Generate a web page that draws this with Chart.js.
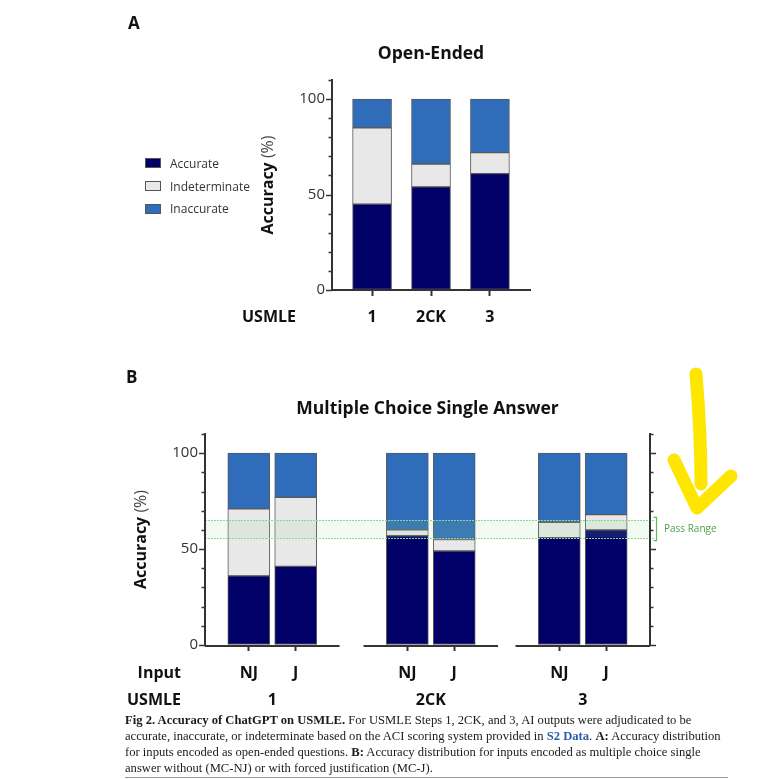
<!DOCTYPE html>
<html><head><meta charset="utf-8">
<script src="https://cdn.jsdelivr.net/npm/chart.js@4.4.1/dist/chart.umd.min.js"></script>
<style>
html,body{margin:0;padding:0;background:#fff;}
#page{position:relative;width:768px;height:779px;overflow:hidden;font-family:'Open Sans',sans-serif;}
canvas{position:absolute;left:0;}
#cA{top:0;} #cB{top:340px;}
.panel{position:absolute;font-weight:700;font-size:17px;color:#111;line-height:20px;}
#legend{position:absolute;left:145px;top:152px;font-size:12px;color:#333;}
.li{display:flex;align-items:center;height:22.7px;}
.sw{width:14px;height:8px;border:1px solid #555;margin-right:9px;}
#caption{position:absolute;left:125px;top:712px;font-family:'Liberation Serif','Times New Roman',serif;font-size:12.6px;line-height:16px;color:#1a1a1a;white-space:nowrap;}
#caption b{font-weight:700;}
#caption .lnk{color:#2a5ca8;font-weight:700;}
#rule{position:absolute;left:125px;top:777px;width:603px;height:1px;background:#999;}
#arrow{position:absolute;left:0;top:0;}
</style></head>
<body><div id="page">
<canvas id="cA" width="768" height="340"></canvas>
<canvas id="cB" width="768" height="380"></canvas>
<div class="panel" style="left:128px;top:13px;">A</div>
<div class="panel" style="left:126px;top:367px;">B</div>
<div id="legend"></div>
<div id="caption"><b>Fig 2. Accuracy of ChatGPT on USMLE.</b> For USMLE Steps 1, 2CK, and 3, AI outputs were adjudicated to be<br>accurate, inaccurate, or indeterminate based on the ACI scoring system provided in <span class="lnk">S2 Data</span>. <b>A:</b> Accuracy distribution<br>for inputs encoded as open-ended questions. <b>B:</b> Accuracy distribution for inputs encoded as multiple choice single<br>answer without (MC-NJ) or with forced justification (MC-J).</div>
<div id="rule"></div>
<svg id="arrow" width="768" height="779"><g fill="none" stroke="#ffe600" stroke-width="13" stroke-linecap="round" stroke-linejoin="round"><path d="M696 374 C699 410 701 450 701 484"/><path d="M674 460 L697 508 L731 476"/></g></svg>
</div>
<script>
// ---------- data ----------
const usmleSteps = ['1', '2CK', '3'];
const seriesNames = ['Accurate', 'Indeterminate', 'Inaccurate'];
const seriesColors = ['#000068', '#e8e8e8', '#2f6cb9'];
// Panel A: open-ended
const openAccurate = [45, 54, 61];
const openIndeterminate = [40, 12, 11];
const openInaccurate = [15, 34, 28];
// Panel B: multiple choice single answer (NJ, J per step)
const inputTypes = ['NJ', 'J'];
const mcAccurate = [36, 41, 57, 49, 56, 60];
const mcIndeterminate = [35, 36, 3, 6, 8, 8];
const mcInaccurate = [29, 23, 40, 45, 36, 32];
const passRange = [56, 65];
const yMajorTicks = [0, 50, 100];
const yMax = 110, yStep = 10;

// ---------- layout / style ----------
const FONT = "'Open Sans', sans-serif";
const groupCenters = [0, 3.38, 6.62], segHalf = 1.434;
const openPos = usmleSteps.map((_, i) => i + 1);
const mcPos = [], mcLabels = [];
usmleSteps.forEach((s, g) => {
  inputTypes.forEach((t, i) => { mcPos.push(groupCenters[g] + i - 0.5); mcLabels.push(t); });
});

// legend (HTML, built from series)
const lg = document.getElementById('legend');
seriesNames.forEach((n, i) => {
  const d = document.createElement('div'); d.className = 'li';
  d.innerHTML = '<span class="sw" style="background:' + seriesColors[i] + '"></span><span>' + n + '</span>';
  lg.appendChild(d);
});

function mkDatasets(pos, arrs, thick) {
  return arrs.map((arr, k) => ({
    label: seriesNames[k],
    data: arr.map((v, i) => ({ x: pos[i], y: v })),
    backgroundColor: seriesColors[k],
    borderColor: '#5a5a5a', borderWidth: 1, borderSkipped: false,
    barThickness: thick
  }));
}
function yAxisCfg(extra) {
  return Object.assign({
    type: 'linear', min: 0, max: yMax, stacked: true,
    ticks: { stepSize: yStep, autoSkip: false, padding: 7, color: '#333', font: { family: FONT, size: 15 },
      callback: v => yMajorTicks.includes(v) ? String(v) : '' },
    grid: { display: true, drawOnChartArea: false, drawTicks: false },
    border: { display: true, color: '#333', width: 2, z: 1 },
    afterFit(s) { s.width = 40; }
  }, extra || {});
}
function xAxisCfg(pos, labels, min, max, showBorder, pad) {
  return {
    type: 'linear', min: min, max: max, offset: false, stacked: true,
    afterBuildTicks(s) { s.ticks = pos.map(v => ({ value: v })); },
    ticks: { autoSkip: false, maxRotation: 0, minRotation: 0, padding: pad, color: '#111',
      font: { family: FONT, size: 16, weight: 'bold' }, callback: (v, i) => labels[i] },
    grid: { display: true, drawOnChartArea: false, drawTicks: true, tickLength: 6, tickColor: '#333', tickWidth: 2, offset: false },
    border: { display: showBorder, color: '#333', width: 2, z: 1 },
    afterFit(s) { s.height = 40; }
  };
}
function drawYTicks(ctx, scale, side) {
  ctx.save(); ctx.strokeStyle = '#333'; ctx.lineWidth = 1.5;
  scale.ticks.forEach(t => {
    const y = Math.round(scale.getPixelForValue(t.value)) + 0.5;
    const len = yMajorTicks.includes(t.value) ? 6 : 3.5;
    ctx.beginPath();
    if (side === 'left') { ctx.moveTo(scale.right - len, y); ctx.lineTo(scale.right, y); }
    else { ctx.moveTo(scale.left, y); ctx.lineTo(scale.left + len, y); }
    ctx.stroke();
  });
  ctx.restore();
}
function txt(ctx, s, x, y, size, weight, align, color) {
  ctx.save(); ctx.font = weight + ' ' + size + 'px ' + FONT; ctx.fillStyle = color || '#111';
  ctx.textAlign = align || 'center'; ctx.textBaseline = 'middle'; ctx.fillText(s, x, y); ctx.restore();
}
function drawYTitle(ctx, x, y) {
  ctx.save(); ctx.translate(x, y); ctx.rotate(-Math.PI / 2); ctx.textBaseline = 'middle';
  const a = 'Accuracy ', b = '(%)';
  ctx.font = 'bold 16px ' + FONT; const w1 = ctx.measureText(a).width;
  ctx.font = '16px ' + FONT; const w2 = ctx.measureText(b).width;
  const x0 = -(w1 + w2) / 2;
  ctx.textAlign = 'left';
  ctx.font = 'bold 16px ' + FONT; ctx.fillStyle = '#111'; ctx.fillText(a, x0, 0);
  ctx.font = '16px ' + FONT; ctx.fillStyle = '#444'; ctx.fillText(b, x0 + w1, 0);
  ctx.restore();
}

Chart.defaults.font.family = FONT;

// ---------- Chart A ----------
const decorA = {
  id: 'decorA',
  afterDraw(chart) {
    const { ctx, chartArea: ca, scales } = chart;
    drawYTicks(ctx, scales.y, 'left');
    drawYTitle(ctx, ca.left - 64, (ca.top + ca.bottom) / 2);
    txt(ctx, 'Open-Ended', (ca.left + ca.right) / 2, ca.top - 26, 17.5, 'bold');
    txt(ctx, 'USMLE', ca.left - 36, ca.bottom + 27, 16, 'bold', 'right');
  }
};
new Chart(document.getElementById('cA'), {
  type: 'bar',
  data: { datasets: mkDatasets(openPos, [openAccurate, openIndeterminate, openInaccurate], 39) },
  options: {
    responsive: false, animation: false, devicePixelRatio: 1,
    layout: { padding: { left: 292, right: 238, top: 80, bottom: 10 } },
    plugins: { legend: { display: false }, tooltip: { enabled: false }, title: { display: false } },
    scales: { x: xAxisCfg(openPos, usmleSteps, 0.32, 3.68, true, 12), y: yAxisCfg() }
  },
  plugins: [decorA]
});

// ---------- Chart B ----------
const decorB = {
  id: 'decorB',
  afterDatasetsDraw(chart) {
    const { ctx, chartArea: ca, scales: { y } } = chart;
    const yT = y.getPixelForValue(passRange[1]), yB = y.getPixelForValue(passRange[0]);
    ctx.save();
    ctx.fillStyle = 'rgba(150,220,150,0.14)';
    ctx.fillRect(ca.left, yT, ca.right - ca.left, yB - yT);
    ctx.strokeStyle = '#8fd68f'; ctx.lineWidth = 1; ctx.setLineDash([2, 1]);
    [yT, yB].forEach(yy => { ctx.beginPath(); ctx.moveTo(ca.left, Math.round(yy) + 0.5); ctx.lineTo(ca.right + 4, Math.round(yy) + 0.5); ctx.stroke(); });
    ctx.setLineDash([]);
    ctx.strokeStyle = '#5cb85c'; ctx.lineWidth = 1.2;
    const bx = ca.right + 6.5;
    ctx.beginPath(); ctx.moveTo(bx - 3, yT - 3); ctx.lineTo(bx, yT - 3); ctx.lineTo(bx, yB + 3); ctx.lineTo(bx - 3, yB + 3); ctx.stroke();
    ctx.restore();
    txt(ctx, 'Pass Range', ca.right + 14, (yT + yB) / 2, 10, 'normal', 'left', '#4ea24e');
  },
  afterDraw(chart) {
    const { ctx, chartArea: ca, scales: { x, y, y2 } } = chart;
    ctx.save(); ctx.strokeStyle = '#333'; ctx.lineWidth = 2;
    groupCenters.forEach(c => {
      ctx.beginPath();
      ctx.moveTo(x.getPixelForValue(c - segHalf), ca.bottom + 1);
      ctx.lineTo(x.getPixelForValue(c + segHalf), ca.bottom + 1);
      ctx.stroke();
    });
    ctx.restore();
    drawYTicks(ctx, y, 'left');
    drawYTicks(ctx, y2, 'right');
    drawYTitle(ctx, ca.left - 64, (ca.top + ca.bottom) / 2);
    txt(ctx, 'Multiple Choice Single Answer', (ca.left + ca.right) / 2, ca.top - 25, 17.5, 'bold');
    txt(ctx, 'Input', ca.left - 24, ca.bottom + 28, 16, 'bold', 'right');
    txt(ctx, 'USMLE', ca.left - 24, ca.bottom + 55, 16, 'bold', 'right');
    groupCenters.forEach((c, g) => txt(ctx, usmleSteps[g], x.getPixelForValue(c), ca.bottom + 55, 16, 'bold'));
  }
};
new Chart(document.getElementById('cB'), {
  type: 'bar',
  data: { datasets: mkDatasets(mcPos, [mcAccurate, mcIndeterminate, mcInaccurate], 42) },
  options: {
    responsive: false, animation: false, devicePixelRatio: 1,
    layout: { padding: { left: 165, right: 106, top: 94, bottom: 35 } },
    plugins: { legend: { display: false }, tooltip: { enabled: false }, title: { display: false } },
    scales: {
      x: xAxisCfg(mcPos, mcLabels, -segHalf, groupCenters[groupCenters.length - 1] + segHalf, false, 13),
      y: yAxisCfg(),
      y2: { type: 'linear', position: 'right', min: 0, max: yMax,
        ticks: { stepSize: yStep, display: false },
        grid: { display: true, drawOnChartArea: false, drawTicks: false },
        border: { display: true, color: '#333', width: 2, z: 1 },
        afterFit(s) { s.width = 12; } }
    }
  },
  plugins: [decorB]
});
</script>
</body></html>
